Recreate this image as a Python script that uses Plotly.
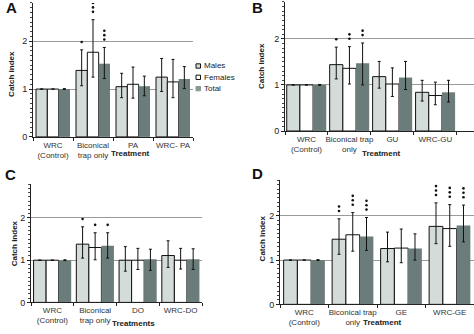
import plotly.graph_objects as go

W, H = 474, 334
FONT = "Arial, Liberation Sans, sans-serif"

# ---------------- data ----------------
sexes = ["Males", "Females", "Total"]

a_cats = ["WRC<br>(Control)", "Biconical<br>trap only", "PA", "WRC- PA"]
a_val = {"Males": [1.0, 1.39, 1.05, 1.25], "Females": [1.0, 1.77, 1.10, 1.15], "Total": [1.0, 1.53, 1.06, 1.21]}
a_hi = {"Males": [1.0, 1.82, 1.33, 1.64], "Females": [1.0, 2.45, 1.46, 1.62], "Total": [1.01, 1.87, 1.27, 1.47]}
a_lo = {"Males": [1.0, 1.07, 0.82, 0.95], "Females": [1.0, 1.25, 0.81, 0.82], "Total": [0.99, 1.22, 0.86, 1.01]}
a_sig = {"Males": [0, 1, 0, 0], "Females": [0, 3, 0, 0], "Total": [0, 3, 0, 0]}

b_cats = ["WRC<br>(Control)", "Biconical trap<br>only", "GU", "WRC-GU"]
b_val = {"Males": [1.0, 1.44, 1.18, 0.84], "Females": [1.0, 1.36, 1.02, 0.77], "Total": [1.0, 1.47, 1.16, 0.84]}
b_hi = {"Males": [1.0, 1.82, 1.51, 1.10], "Females": [1.0, 1.83, 1.37, 1.06], "Total": [1.01, 1.91, 1.51, 1.10]}
b_lo = {"Males": [1.0, 1.13, 0.93, 0.65], "Females": [1.0, 1.02, 0.75, 0.57], "Total": [0.99, 1.00, 0.90, 0.63]}
b_sig = {"Males": [0, 1, 0, 0], "Females": [0, 2, 0, 0], "Total": [0, 2, 0, 0]}

c_cats = ["WRC<br>(Control)", "Biconical<br>trap only", "DO", "WRC-DO"]
c_val = {"Males": [1.0, 1.38, 1.0, 1.11], "Females": [1.0, 1.30, 1.0, 1.0], "Total": [1.0, 1.34, 1.02, 1.02]}
c_hi = {"Males": [1.0, 1.79, 1.32, 1.46], "Females": [1.0, 1.65, 1.28, 1.28], "Total": [1.01, 1.65, 1.26, 1.27]}
c_lo = {"Males": [1.0, 1.05, 0.74, 0.83], "Females": [1.0, 1.01, 0.78, 0.79], "Total": [0.99, 1.05, 0.76, 0.78]}
c_sig = {"Males": [0, 1, 0, 0], "Females": [0, 1, 0, 0], "Total": [0, 1, 0, 0]}

d_cats = ["WRC<br>(Control)", "Biconical trap<br>only", "GE", "WRC-GE"]
d_val = {"Males": [1.0, 1.47, 1.26, 1.76], "Females": [1.0, 1.57, 1.27, 1.71], "Total": [1.0, 1.53, 1.26, 1.78]}
d_hi = {"Males": [1.0, 1.93, 1.63, 2.29], "Females": [1.0, 2.07, 1.70, 2.25], "Total": [1.01, 1.96, 1.59, 2.24]}
d_lo = {"Males": [1.0, 1.13, 0.96, 1.37], "Females": [1.0, 1.20, 0.94, 1.31], "Total": [0.99, 1.22, 1.0, 1.41]}
d_sig = {"Males": [0, 2, 0, 3], "Females": [0, 3, 0, 3], "Total": [0, 3, 0, 3]}

y_ticks = [0, 1, 2]

# ---------------- style ----------------
fill = {"Males": "#d4dcd9", "Females": "#ffffff", "Total": "#6b7d7a"}
outline = {"Males": 1, "Females": 1, "Total": 0}


def xp(px):
    return px / W


def yp(py):
    return 1 - py / H


YMAX = 2.8
panels = [
    dict(letter="A", cats=a_cats, val=a_val, hi=a_hi, lo=a_lo, sig=a_sig,
         xpx=(33, 193), ypx=(139, 3), xr=(-0.5, 3.5), gap=0.15,
         ytitle="Catch index", xtitle="Treatment", xt=(130, 156), lt=(11, 8), yt=(12, 75)),
    dict(letter="B", cats=b_cats, val=b_val, hi=b_hi, lo=b_lo, sig=b_sig,
         xpx=(285, 474), ypx=(133, 2), xr=(-0.5, 3.9), gap=0.08,
         ytitle="Catch Index", xtitle="Treatment", xt=(381, 156), lt=(257, 8), yt=(262, 67)),
    dict(letter="C", cats=c_cats, val=c_val, hi=c_hi, lo=c_lo, sig=c_sig,
         xpx=(31, 202), ypx=(307, 187), xr=(-0.5, 3.5), gap=0.12,
         ytitle="Catch index", xtitle="Treatments", xt=(133, 328), lt=(10, 177), yt=(14, 247)),
    dict(letter="D", cats=d_cats, val=d_val, hi=d_hi, lo=d_lo, sig=d_sig,
         xpx=(280, 474), ypx=(309, 183), xr=(-0.5, 3.5), gap=0.15,
         ytitle="Catch Index", xtitle="Treatment", xt=(382, 327), lt=(257, 176), yt=(262, 242)),
]

fig = go.Figure()
annotations = []
shapes = []
STAR_GAP, STAR_STEP = 8.0, 4.5

for i, p in enumerate(panels, start=1):
    xa = "x" if i == 1 else f"x{i}"
    ya = "y" if i == 1 else f"y{i}"
    ppu = (p["ypx"][0] - p["ypx"][1]) / YMAX
    bw = (1 - p["gap"]) / 3
    n = len(p["cats"])
    for k, s in enumerate(sexes):
        xs = [g + (k - 1) * bw for g in range(n)]
        v = p["val"][s]
        fig.add_trace(go.Bar(
            x=xs, y=v, width=bw, name=s, xaxis=xa, yaxis=ya,
            marker=dict(color=fill[s], line=dict(color="#111111" if outline[s] else fill[s], width=outline[s])),
            error_y=dict(type="data", symmetric=False,
                         array=[h - vv for h, vv in zip(p["hi"][s], v)],
                         arrayminus=[vv - l for l, vv in zip(p["lo"][s], v)],
                         color="#111111", thickness=1, width=1.5),
            showlegend=False,
        ))
        sx, sy = [], []
        for g in range(n):
            for m in range(p["sig"][s][g]):
                sx.append(xs[g])
                sy.append(p["hi"][s][g] + (STAR_GAP + m * STAR_STEP) / ppu)
        if sx:
            fig.add_trace(go.Scatter(
                x=sx, y=sy, mode="markers", xaxis=xa, yaxis=ya, showlegend=False,
                marker=dict(symbol="circle", size=2.6, color="#111111"), hoverinfo="skip"))

    fig.layout[("xaxis" if i == 1 else f"xaxis{i}")] = dict(
        domain=[xp(p["xpx"][0]), xp(p["xpx"][1])], anchor=ya, range=list(p["xr"]),
        tickvals=list(range(n)), ticktext=p["cats"], ticks="", showline=True,
        linecolor="#222222", linewidth=1, showgrid=False, zeroline=False,
        tickfont=dict(family=FONT, size=8, color="#333333"),
        minor=dict(ticks="outside", tick0=-0.5, dtick=1, ticklen=3, tickcolor="#222222", showgrid=False),
        fixedrange=True,
    )
    fig.layout[("yaxis" if i == 1 else f"yaxis{i}")] = dict(
        domain=[yp(p["ypx"][0]), yp(p["ypx"][1])], anchor=xa, range=[0, YMAX],
        tickvals=y_ticks, ticks="outside", ticklen=3, tickcolor="#222222",
        showline=True, linecolor="#222222", linewidth=1,
        showgrid=True, gridcolor="#9a9a9a", gridwidth=1, zeroline=False,
        tickfont=dict(family=FONT, size=9, color="#222222"),
        minor=dict(ticks="outside", dtick=0.1, ticklen=2, tickcolor="#444444", showgrid=False),
        fixedrange=True,
    )
    common = dict(xref="paper", yref="paper", showarrow=False, xanchor="center", yanchor="middle")
    annotations.append(dict(text=f"<b>{p['letter']}</b>", x=xp(p["lt"][0]), y=yp(p["lt"][1]),
                            font=dict(family=FONT, size=15, color="#111111"), **common))
    annotations.append(dict(text=f"<b>{p['ytitle']}</b>", x=xp(p["yt"][0]), y=yp(p["yt"][1]),
                            textangle=-90, font=dict(family=FONT, size=8, color="#222222"), **common))
    annotations.append(dict(text=f"<b>{p['xtitle']}</b>", x=xp(p["xt"][0]), y=yp(p["xt"][1]),
                            font=dict(family=FONT, size=8, color="#222222"), **common))

# manual legend (panel A)
leg_rows = {"Males": 67, "Females": 78.5, "Total": 90}
leg_fill = {"Males": "#d4dcd9", "Females": "#ffffff", "Total": "#8a9896"}
for s in sexes:
    yc = leg_rows[s]
    shapes.append(dict(type="rect", xref="paper", yref="paper",
                       x0=xp(196), x1=xp(200.5), y0=yp(yc + 2.2), y1=yp(yc - 2.2),
                       fillcolor=leg_fill[s], line=dict(color="#111111" if s != "Total" else "#8a9896", width=1)))
    annotations.append(dict(text=s, x=xp(201.5), y=yp(yc), xref="paper", yref="paper",
                            showarrow=False, xanchor="left", yanchor="middle",
                            font=dict(family=FONT, size=8, color="#222222")))

fig.update_layout(
    width=W, height=H, margin=dict(l=0, r=0, t=0, b=0),
    paper_bgcolor="white", plot_bgcolor="white",
    barmode="overlay", annotations=annotations, shapes=shapes, showlegend=False,
)

fig.write_html("out.html")
